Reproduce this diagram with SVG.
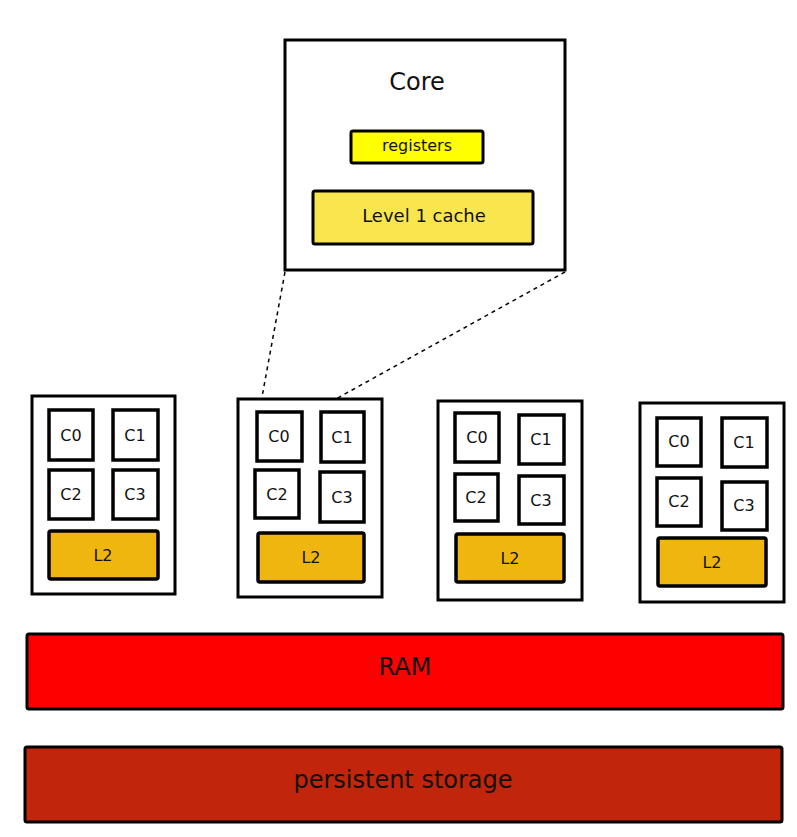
<svg xmlns="http://www.w3.org/2000/svg" width="797" height="837" viewBox="0 0 797 837">
<style>
.b{fill:#fff;stroke:#000;stroke-width:3}
.c{fill:#fff;stroke:#000;stroke-width:3.5}
.l2{fill:#efb60f;stroke:#000;stroke-width:3.5}
text{font-family:"DejaVu Sans",sans-serif;text-anchor:middle;fill:#111}
.s{font-size:16px}
</style>
<rect width="797" height="837" fill="#fff"/>
<g id="connectors" stroke="#000" stroke-width="1.5" stroke-dasharray="4,4" fill="none">
<line x1="285" y1="272" x2="262" y2="397"/>
<line x1="565" y1="272" x2="316" y2="410"/>
</g>
<g id="core">
<rect class="b" x="285" y="40" width="280" height="230"/>
<text x="417" y="90" font-size="24">Core</text>
<rect x="351" y="131" width="132" height="32" rx="2" fill="#ffff00" stroke="#000" stroke-width="3"/>
<text x="417" y="151" class="s">registers</text>
<rect x="313" y="191" width="220" height="53" rx="2" fill="#f9e64f" stroke="#000" stroke-width="3"/>
<text x="424" y="222" font-size="18">Level 1 cache</text>
</g>
<g id="chip1">
<rect class="b" x="32" y="396" width="143" height="198"/>
<rect class="c" x="49" y="410" width="44" height="50"/><text x="71" y="441" class="s">C0</text>
<rect class="c" x="113" y="410" width="45" height="50"/><text x="135" y="441" class="s">C1</text>
<rect class="c" x="49" y="470" width="44" height="49"/><text x="71" y="500" class="s">C2</text>
<rect class="c" x="113" y="470" width="45" height="49"/><text x="135" y="500" class="s">C3</text>
<rect class="l2" x="49" y="531" width="109" height="48" rx="2"/><text x="103" y="561" class="s">L2</text>
</g>
<g id="chip2">
<rect class="b" x="238" y="399" width="144" height="198"/>
<rect class="c" x="257" y="412" width="45" height="49"/><text x="279" y="442" class="s">C0</text>
<rect class="c" x="321" y="412" width="43" height="50"/><text x="342" y="443" class="s">C1</text>
<rect class="c" x="255" y="470" width="44" height="48"/><text x="277" y="500" class="s">C2</text>
<rect class="c" x="320" y="472" width="44" height="50"/><text x="342" y="503" class="s">C3</text>
<rect class="l2" x="258" y="533" width="106" height="49" rx="2"/><text x="311" y="563" class="s">L2</text>
</g>
<g id="chip3">
<rect class="b" x="438" y="401" width="144" height="199"/>
<rect class="c" x="455" y="413" width="44" height="49"/><text x="477" y="443" class="s">C0</text>
<rect class="c" x="519" y="415" width="45" height="49"/><text x="541" y="445" class="s">C1</text>
<rect class="c" x="455" y="474" width="43" height="47"/><text x="476" y="503" class="s">C2</text>
<rect class="c" x="519" y="476" width="45" height="48"/><text x="541" y="506" class="s">C3</text>
<rect class="l2" x="456" y="534" width="108" height="48" rx="2"/><text x="510" y="564" class="s">L2</text>
</g>
<g id="chip4">
<rect class="b" x="640" y="403" width="144" height="199"/>
<rect class="c" x="657" y="418" width="44" height="48"/><text x="679" y="447" class="s">C0</text>
<rect class="c" x="722" y="418" width="45" height="49"/><text x="744" y="448" class="s">C1</text>
<rect class="c" x="657" y="478" width="44" height="48"/><text x="679" y="507" class="s">C2</text>
<rect class="c" x="722" y="482" width="45" height="48"/><text x="744" y="511" class="s">C3</text>
<rect class="l2" x="658" y="538" width="108" height="48" rx="2"/><text x="712" y="568" class="s">L2</text>
</g>
<g id="ram">
<rect x="27" y="634" width="756" height="75" rx="2" fill="#ff0000" stroke="#000" stroke-width="3"/>
<text x="405" y="675" font-size="24">RAM</text>
</g>
<g id="storage">
<rect x="25" y="747" width="757" height="75" rx="2" fill="#c1250c" stroke="#000" stroke-width="3"/>
<text x="403" y="788" font-size="24">persistent storage</text>
</g>
</svg>
